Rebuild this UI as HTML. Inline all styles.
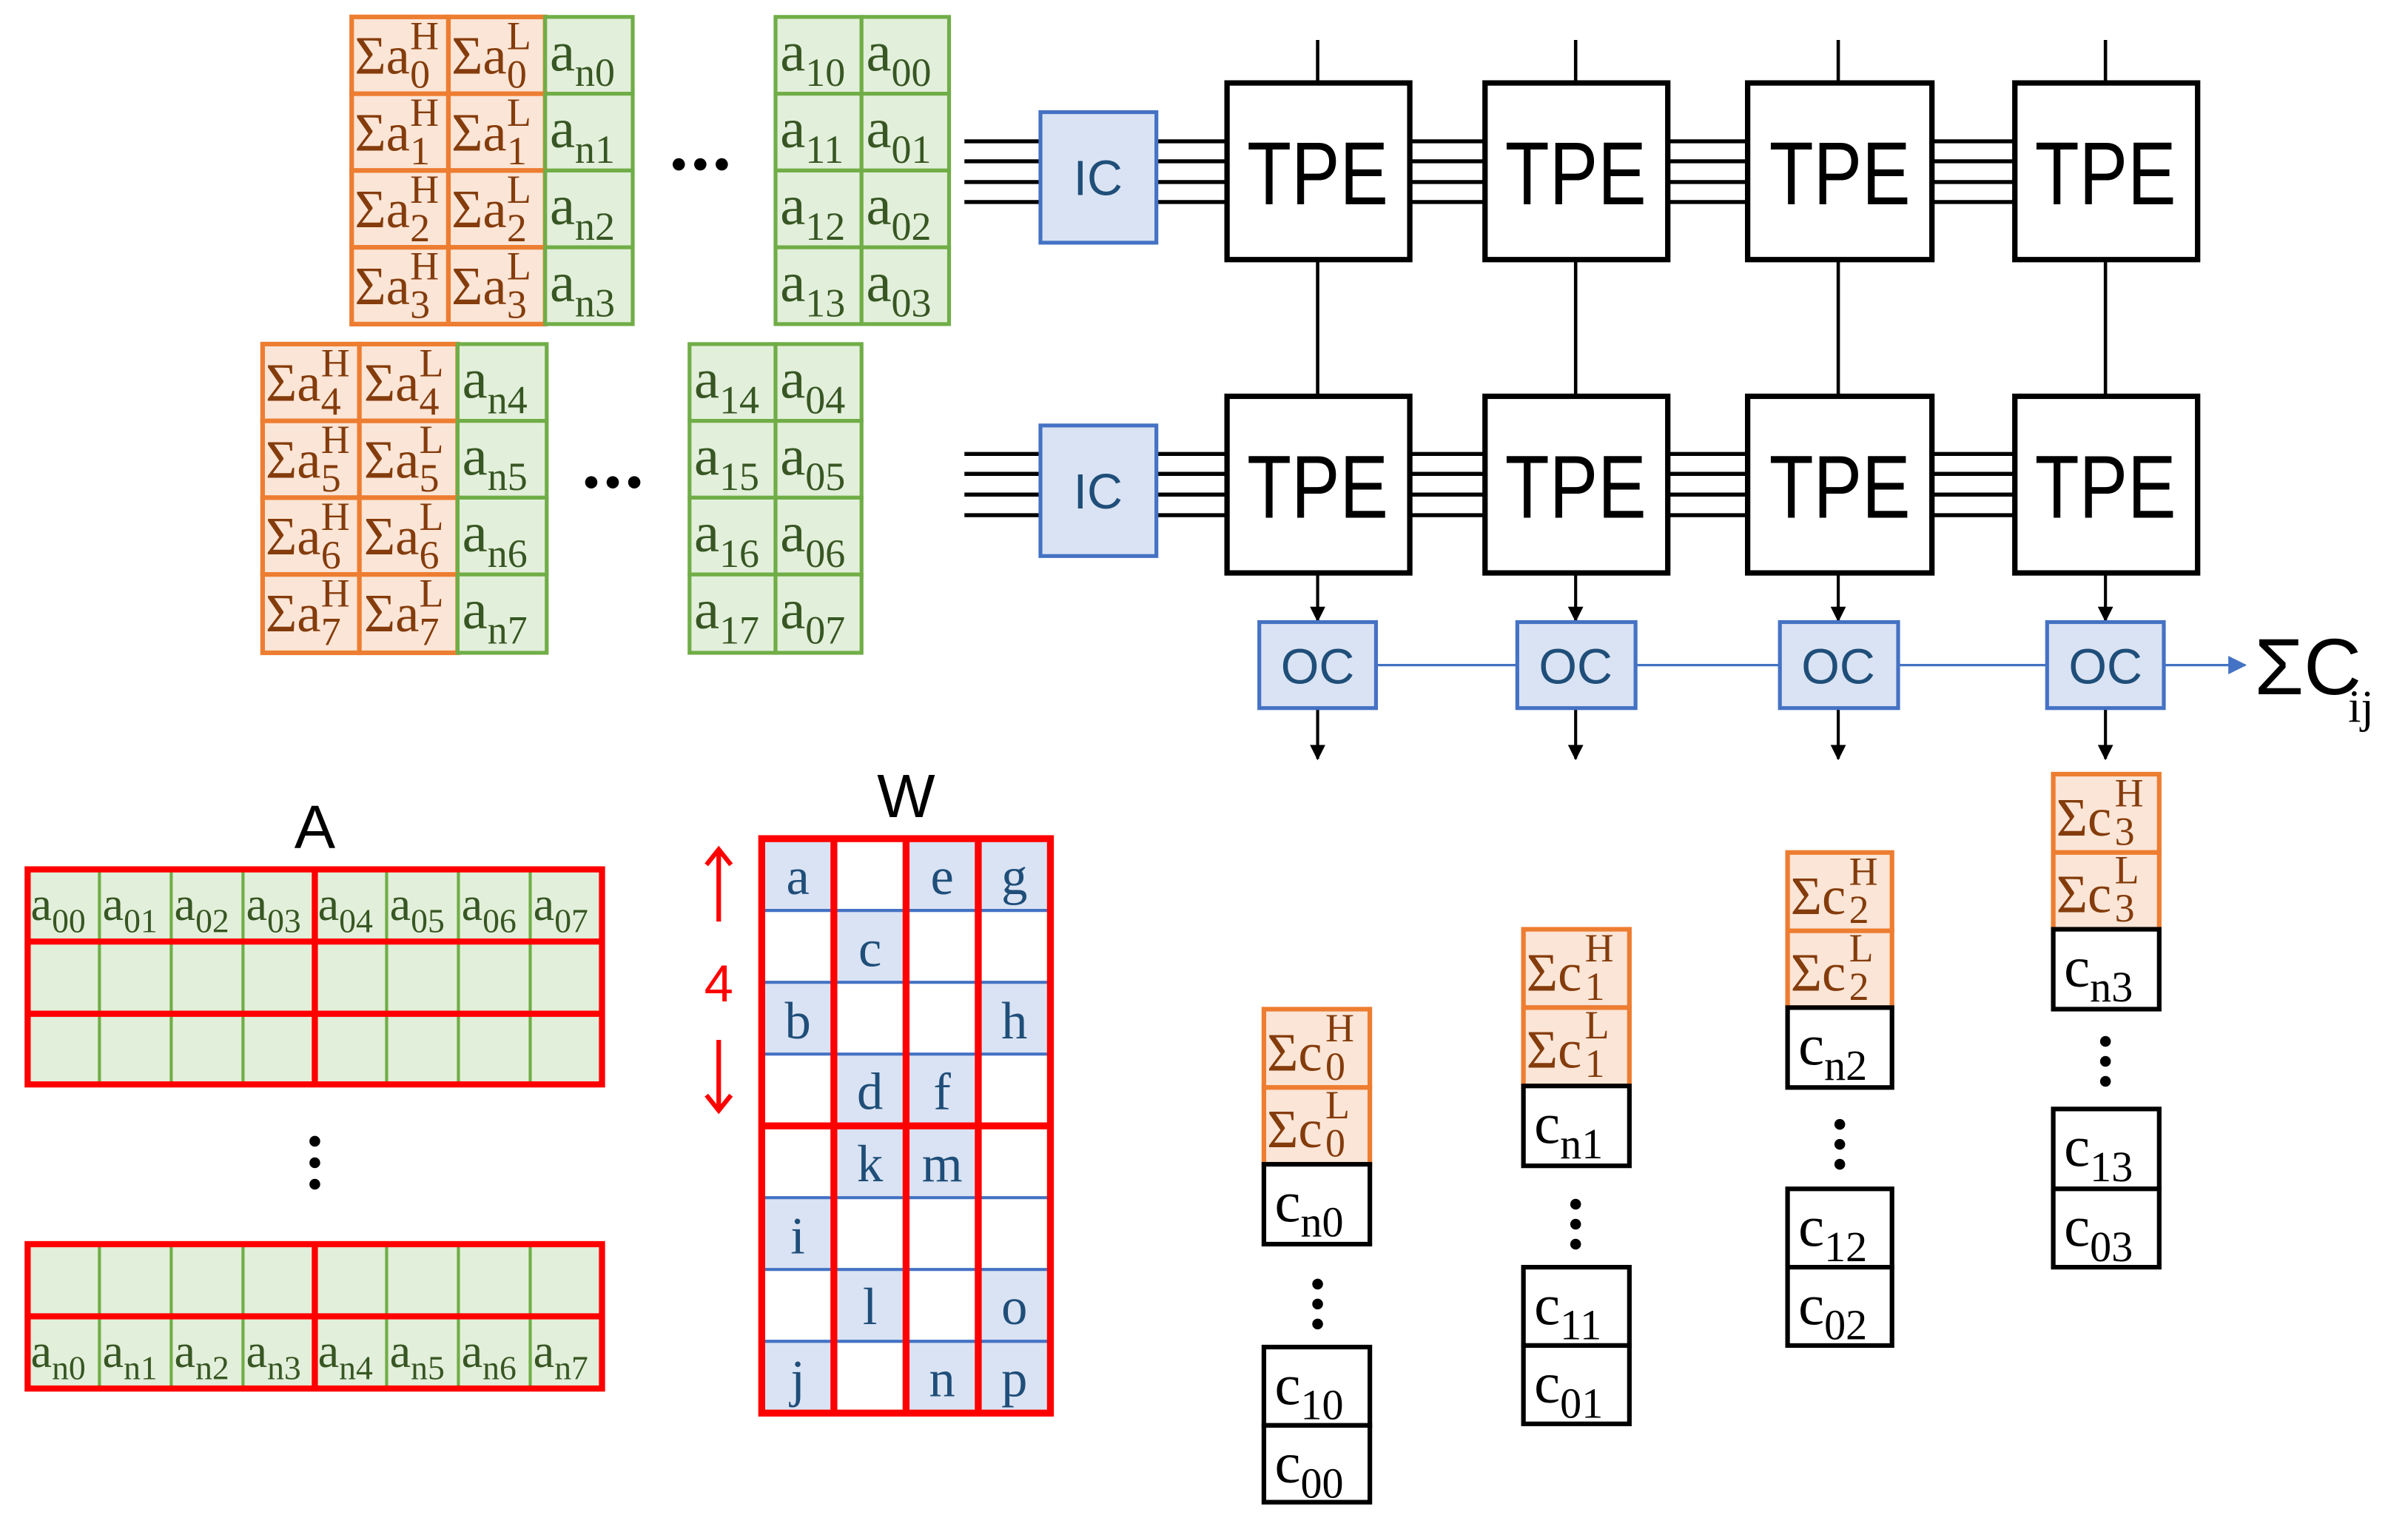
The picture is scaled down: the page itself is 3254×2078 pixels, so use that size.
<!DOCTYPE html>
<html><head><meta charset="utf-8"><style>
html,body{margin:0;padding:0;background:#fff;}
svg{display:block;}
.o{font-family:"Liberation Serif",serif;fill:#843c0c;font-size:35px;}
.os{font-family:"Liberation Serif",serif;fill:#843c0c;font-size:26px;}
.g{font-family:"Liberation Serif",serif;fill:#375623;font-size:37px;}
.gs{font-size:26px;}
.ga{font-family:"Liberation Serif",serif;fill:#375623;font-size:31px;}
.gas{font-size:22px;}
.k{font-family:"Liberation Serif",serif;fill:#000;font-size:38px;}
.ks{font-size:28px;}
.w{font-family:"Liberation Serif",serif;fill:#1f4e79;font-size:34px;text-anchor:middle;}
.b{font-family:"Liberation Sans",sans-serif;fill:#1f4e79;font-size:32px;text-anchor:middle;}
.t{font-family:"Liberation Sans",sans-serif;fill:#000;font-size:58px;text-anchor:middle;}
.or{fill:#fbe5d6;stroke:#ed7d31;stroke-width:3;}
.gr{fill:#e2efda;stroke:#70ad47;stroke-width:2.5;}
.br{fill:#dae3f3;stroke:#4472c4;stroke-width:2.5;}
.tp{fill:#fff;stroke:#000;stroke-width:3.5;}
.ln{stroke:#000;stroke-width:2.2;}
.kb{fill:#fff;stroke:#000;stroke-width:3;}
</style></head><body>
<svg width="3254" height="2078" viewBox="0 0 1568 1001.3" xmlns="http://www.w3.org/2000/svg">
<defs>
<marker id="ah" markerWidth="10" markerHeight="10" refX="9" refY="5" orient="auto" markerUnits="userSpaceOnUse"><path d="M0,0 L10,5 L0,10 z" fill="#000"/></marker>
<marker id="ahb" markerWidth="12" markerHeight="12" refX="11" refY="6" orient="auto" markerUnits="userSpaceOnUse"><path d="M0,0 L12,6 L0,12 z" fill="#4472c4"/></marker>
</defs>

<!-- top-left block -->
<g>
<rect class="or" x="229" y="11" width="63" height="50"/><rect class="or" x="292" y="11" width="63" height="50"/><rect class="gr" x="355" y="11" width="57" height="50"/>
<rect class="or" x="229" y="61" width="63" height="50"/><rect class="or" x="292" y="61" width="63" height="50"/><rect class="gr" x="355" y="61" width="57" height="50"/>
<rect class="or" x="229" y="111" width="63" height="50"/><rect class="or" x="292" y="111" width="63" height="50"/><rect class="gr" x="355" y="111" width="57" height="50"/>
<rect class="or" x="229" y="161" width="63" height="50"/><rect class="or" x="292" y="161" width="63" height="50"/><rect class="gr" x="355" y="161" width="57" height="50"/>
<text class="o" x="231" y="48">Σa</text><text class="os" x="267" y="32">H</text><text class="os" x="267" y="57">0</text>
<text class="o" x="294" y="48">Σa</text><text class="os" x="330" y="32">L</text><text class="os" x="330" y="57">0</text>
<text class="g" x="358" y="46">a<tspan class="gs" dy="10">n0</tspan></text>
<text class="o" x="231" y="98">Σa</text><text class="os" x="267" y="82">H</text><text class="os" x="267" y="107">1</text>
<text class="o" x="294" y="98">Σa</text><text class="os" x="330" y="82">L</text><text class="os" x="330" y="107">1</text>
<text class="g" x="358" y="96">a<tspan class="gs" dy="10">n1</tspan></text>
<text class="o" x="231" y="148">Σa</text><text class="os" x="267" y="132">H</text><text class="os" x="267" y="157">2</text>
<text class="o" x="294" y="148">Σa</text><text class="os" x="330" y="132">L</text><text class="os" x="330" y="157">2</text>
<text class="g" x="358" y="146">a<tspan class="gs" dy="10">n2</tspan></text>
<text class="o" x="231" y="198">Σa</text><text class="os" x="267" y="182">H</text><text class="os" x="267" y="207">3</text>
<text class="o" x="294" y="198">Σa</text><text class="os" x="330" y="182">L</text><text class="os" x="330" y="207">3</text>
<text class="g" x="358" y="196">a<tspan class="gs" dy="10">n3</tspan></text>
</g>
<g fill="#000"><circle cx="442" cy="107" r="4"/><circle cx="456" cy="107" r="4"/><circle cx="470" cy="107" r="4"/></g>
<g>
<rect class="gr" x="505" y="11" width="56" height="50"/><rect class="gr" x="561" y="11" width="57" height="50"/>
<rect class="gr" x="505" y="61" width="56" height="50"/><rect class="gr" x="561" y="61" width="57" height="50"/>
<rect class="gr" x="505" y="111" width="56" height="50"/><rect class="gr" x="561" y="111" width="57" height="50"/>
<rect class="gr" x="505" y="161" width="56" height="50"/><rect class="gr" x="561" y="161" width="57" height="50"/>
<text class="g" x="508" y="46">a<tspan class="gs" dy="10">10</tspan></text><text class="g" x="564" y="46">a<tspan class="gs" dy="10">00</tspan></text>
<text class="g" x="508" y="96">a<tspan class="gs" dy="10">11</tspan></text><text class="g" x="564" y="96">a<tspan class="gs" dy="10">01</tspan></text>
<text class="g" x="508" y="146">a<tspan class="gs" dy="10">12</tspan></text><text class="g" x="564" y="146">a<tspan class="gs" dy="10">02</tspan></text>
<text class="g" x="508" y="196">a<tspan class="gs" dy="10">13</tspan></text><text class="g" x="564" y="196">a<tspan class="gs" dy="10">03</tspan></text>
</g>

<!-- second block -->
<g>
<rect class="or" x="171" y="224" width="63" height="50"/><rect class="or" x="234" y="224" width="64" height="50"/><rect class="gr" x="298" y="224" width="58" height="50"/>
<rect class="or" x="171" y="274" width="63" height="50"/><rect class="or" x="234" y="274" width="64" height="50"/><rect class="gr" x="298" y="274" width="58" height="50"/>
<rect class="or" x="171" y="324" width="63" height="50"/><rect class="or" x="234" y="324" width="64" height="50"/><rect class="gr" x="298" y="324" width="58" height="50"/>
<rect class="or" x="171" y="374" width="63" height="51"/><rect class="or" x="234" y="374" width="64" height="51"/><rect class="gr" x="298" y="374" width="58" height="51"/>
<text class="o" x="173" y="261">Σa</text><text class="os" x="209" y="245">H</text><text class="os" x="209" y="270">4</text>
<text class="o" x="237" y="261">Σa</text><text class="os" x="273" y="245">L</text><text class="os" x="273" y="270">4</text>
<text class="g" x="301" y="259">a<tspan class="gs" dy="10">n4</tspan></text>
<text class="o" x="173" y="311">Σa</text><text class="os" x="209" y="295">H</text><text class="os" x="209" y="320">5</text>
<text class="o" x="237" y="311">Σa</text><text class="os" x="273" y="295">L</text><text class="os" x="273" y="320">5</text>
<text class="g" x="301" y="309">a<tspan class="gs" dy="10">n5</tspan></text>
<text class="o" x="173" y="361">Σa</text><text class="os" x="209" y="345">H</text><text class="os" x="209" y="370">6</text>
<text class="o" x="237" y="361">Σa</text><text class="os" x="273" y="345">L</text><text class="os" x="273" y="370">6</text>
<text class="g" x="301" y="359">a<tspan class="gs" dy="10">n6</tspan></text>
<text class="o" x="173" y="411">Σa</text><text class="os" x="209" y="395">H</text><text class="os" x="209" y="420">7</text>
<text class="o" x="237" y="411">Σa</text><text class="os" x="273" y="395">L</text><text class="os" x="273" y="420">7</text>
<text class="g" x="301" y="409">a<tspan class="gs" dy="10">n7</tspan></text>
</g>
<g fill="#000"><circle cx="385" cy="314" r="4"/><circle cx="399" cy="314" r="4"/><circle cx="413" cy="314" r="4"/></g>
<g>
<rect class="gr" x="449" y="224" width="56" height="50"/><rect class="gr" x="505" y="224" width="56" height="50"/>
<rect class="gr" x="449" y="274" width="56" height="50"/><rect class="gr" x="505" y="274" width="56" height="50"/>
<rect class="gr" x="449" y="324" width="56" height="50"/><rect class="gr" x="505" y="324" width="56" height="50"/>
<rect class="gr" x="449" y="374" width="56" height="51"/><rect class="gr" x="505" y="374" width="56" height="51"/>
<text class="g" x="452" y="259">a<tspan class="gs" dy="10">14</tspan></text><text class="g" x="508" y="259">a<tspan class="gs" dy="10">04</tspan></text>
<text class="g" x="452" y="309">a<tspan class="gs" dy="10">15</tspan></text><text class="g" x="508" y="309">a<tspan class="gs" dy="10">05</tspan></text>
<text class="g" x="452" y="359">a<tspan class="gs" dy="10">16</tspan></text><text class="g" x="508" y="359">a<tspan class="gs" dy="10">06</tspan></text>
<text class="g" x="452" y="409">a<tspan class="gs" dy="10">17</tspan></text><text class="g" x="508" y="409">a<tspan class="gs" dy="10">07</tspan></text>
</g>

<!-- buses -->
<g stroke="#000" stroke-width="2.6">
<path d="M628 92H677M628 105H677M628 118.5H677M628 131.5H677"/>
<path d="M753 92H799M753 105H799M753 118.5H799M753 131.5H799"/>
<path d="M918 92H967M918 105H967M918 118.5H967M918 131.5H967"/>
<path d="M1086 92H1138M1086 105H1138M1086 118.5H1138M1086 131.5H1138"/>
<path d="M1258 92H1312M1258 105H1312M1258 118.5H1312M1258 131.5H1312"/>
<path d="M628 295.5H677M628 308.5H677M628 322H677M628 335.4H677"/>
<path d="M753 295.5H799M753 308.5H799M753 322H799M753 335.4H799"/>
<path d="M918 295.5H967M918 308.5H967M918 322H967M918 335.4H967"/>
<path d="M1086 295.5H1138M1086 308.5H1138M1086 322H1138M1086 335.4H1138"/>
<path d="M1258 295.5H1312M1258 308.5H1312M1258 322H1312M1258 335.4H1312"/>
</g>
<g class="ln">
<path d="M858 26V54M858 169V258M1026 26V54M1026 169V258M1197 26V54M1197 169V258M1371 26V54M1371 169V258"/>
</g>
<g stroke="#000" stroke-width="2" marker-end="url(#ah)">
<line x1="858" y1="373" x2="858" y2="404"/><line x1="1026" y1="373" x2="1026" y2="404"/><line x1="1197" y1="373" x2="1197" y2="404"/><line x1="1371" y1="373" x2="1371" y2="404"/>
<line x1="858" y1="462" x2="858" y2="494"/><line x1="1026" y1="462" x2="1026" y2="494"/><line x1="1197" y1="462" x2="1197" y2="494"/><line x1="1371" y1="462" x2="1371" y2="494"/>
</g>
<rect class="br" x="677.5" y="73" width="75.5" height="85"/><text class="b" x="715" y="127">IC</text>
<rect class="br" x="677.5" y="277" width="75.5" height="85"/><text class="b" x="715" y="331">IC</text>
<rect class="tp" x="799" y="54" width="119" height="115"/><text class="t" x="858" y="133" textLength="92" lengthAdjust="spacingAndGlyphs">TPE</text>
<rect class="tp" x="967" y="54" width="119" height="115"/><text class="t" x="1026" y="133" textLength="92" lengthAdjust="spacingAndGlyphs">TPE</text>
<rect class="tp" x="1138" y="54" width="120" height="115"/><text class="t" x="1198" y="133" textLength="92" lengthAdjust="spacingAndGlyphs">TPE</text>
<rect class="tp" x="1312" y="54" width="119" height="115"/><text class="t" x="1371" y="133" textLength="92" lengthAdjust="spacingAndGlyphs">TPE</text>
<rect class="tp" x="799" y="258" width="119" height="115"/><text class="t" x="858" y="337" textLength="92" lengthAdjust="spacingAndGlyphs">TPE</text>
<rect class="tp" x="967" y="258" width="119" height="115"/><text class="t" x="1026" y="337" textLength="92" lengthAdjust="spacingAndGlyphs">TPE</text>
<rect class="tp" x="1138" y="258" width="120" height="115"/><text class="t" x="1198" y="337" textLength="92" lengthAdjust="spacingAndGlyphs">TPE</text>
<rect class="tp" x="1312" y="258" width="119" height="115"/><text class="t" x="1371" y="337" textLength="92" lengthAdjust="spacingAndGlyphs">TPE</text>
<line x1="896" y1="433" x2="1462" y2="433" stroke="#4472c4" stroke-width="1.6" marker-end="url(#ahb)"/>
<rect class="br" x="820" y="405" width="76" height="56"/><text class="b" x="858" y="445">OC</text>
<rect class="br" x="988" y="405" width="77" height="56"/><text class="b" x="1026" y="445">OC</text>
<rect class="br" x="1159" y="405" width="77" height="56"/><text class="b" x="1197" y="445">OC</text>
<rect class="br" x="1333" y="405" width="76" height="56"/><text class="b" x="1371" y="445">OC</text>
<text x="1468" y="452" font-family="Liberation Sans" font-size="52">ΣC</text><text x="1529" y="470" font-family="Liberation Serif" font-size="30">ij</text>

<!-- A matrix -->
<text x="205" y="552" font-family="Liberation Sans" font-size="40" text-anchor="middle">A</text>
<rect x="18" y="566" width="374" height="140" fill="#e2efda"/>
<g stroke="#70ad47" stroke-width="2"><path d="M64.75 566V706M111.5 566V706M158.25 566V706M251.75 566V706M298.5 566V706M345.25 566V706"/></g>
<g stroke="#f00" stroke-width="4" fill="none"><rect x="18" y="566" width="374" height="140"/><path d="M18 613H392M18 660H392M205 566V706"/></g>
<text class="ga" x="20" y="599">a<tspan class="gas" dy="8">00</tspan></text>
<text class="ga" x="66.75" y="599">a<tspan class="gas" dy="8">01</tspan></text>
<text class="ga" x="113.5" y="599">a<tspan class="gas" dy="8">02</tspan></text>
<text class="ga" x="160.25" y="599">a<tspan class="gas" dy="8">03</tspan></text>
<text class="ga" x="207" y="599">a<tspan class="gas" dy="8">04</tspan></text>
<text class="ga" x="253.75" y="599">a<tspan class="gas" dy="8">05</tspan></text>
<text class="ga" x="300.5" y="599">a<tspan class="gas" dy="8">06</tspan></text>
<text class="ga" x="347.25" y="599">a<tspan class="gas" dy="8">07</tspan></text>
<g fill="#000"><circle cx="205" cy="743" r="3.5"/><circle cx="205" cy="757" r="3.5"/><circle cx="205" cy="771" r="3.5"/></g>
<rect x="18" y="810" width="374" height="94" fill="#e2efda"/>
<g stroke="#70ad47" stroke-width="2"><path d="M64.75 810V904M111.5 810V904M158.25 810V904M251.75 810V904M298.5 810V904M345.25 810V904"/></g>
<g stroke="#f00" stroke-width="4" fill="none"><rect x="18" y="810" width="374" height="94"/><path d="M18 857H392M205 810V904"/></g>
<text class="ga" x="20" y="890">a<tspan class="gas" dy="8">n0</tspan></text>
<text class="ga" x="66.75" y="890">a<tspan class="gas" dy="8">n1</tspan></text>
<text class="ga" x="113.5" y="890">a<tspan class="gas" dy="8">n2</tspan></text>
<text class="ga" x="160.25" y="890">a<tspan class="gas" dy="8">n3</tspan></text>
<text class="ga" x="207" y="890">a<tspan class="gas" dy="8">n4</tspan></text>
<text class="ga" x="253.75" y="890">a<tspan class="gas" dy="8">n5</tspan></text>
<text class="ga" x="300.5" y="890">a<tspan class="gas" dy="8">n6</tspan></text>
<text class="ga" x="347.25" y="890">a<tspan class="gas" dy="8">n7</tspan></text>

<!-- W matrix -->
<text x="590" y="532" font-family="Liberation Sans" font-size="40" text-anchor="middle">W</text>
<g fill="#dae3f3">
<rect x="496" y="546" width="47" height="46.75"/><rect x="590" y="546" width="47" height="46.75"/><rect x="637" y="546" width="47" height="46.75"/>
<rect x="543" y="592.75" width="47" height="46.75"/>
<rect x="496" y="639.5" width="47" height="46.75"/><rect x="637" y="639.5" width="47" height="46.75"/>
<rect x="543" y="686.25" width="47" height="46.75"/><rect x="590" y="686.25" width="47" height="46.75"/>
<rect x="543" y="733" width="47" height="46.75"/><rect x="590" y="733" width="47" height="46.75"/>
<rect x="496" y="779.75" width="47" height="46.75"/>
<rect x="543" y="826.5" width="47" height="46.75"/><rect x="637" y="826.5" width="47" height="46.75"/>
<rect x="496" y="873.25" width="47" height="46.75"/><rect x="590" y="873.25" width="47" height="46.75"/><rect x="637" y="873.25" width="47" height="46.75"/>
</g>
<g stroke="#4472c4" stroke-width="2"><path d="M496 592.75H684M496 639.5H684M496 686.25H684M496 779.75H684M496 826.5H684M496 873.25H684"/></g>
<g stroke="#f00" stroke-width="4.5" fill="none"><rect x="496" y="546" width="188" height="374"/><path d="M543 546V920M590 546V920M637 546V920M496 733H684"/></g>
<text class="w" x="519.5" y="582">a</text><text class="w" x="613.5" y="582">e</text><text class="w" x="660.5" y="582">g</text>
<text class="w" x="566.5" y="629">c</text>
<text class="w" x="519.5" y="676">b</text><text class="w" x="660.5" y="676">h</text>
<text class="w" x="566.5" y="722">d</text><text class="w" x="613.5" y="722">f</text>
<text class="w" x="566.5" y="769">k</text><text class="w" x="613.5" y="769">m</text>
<text class="w" x="519.5" y="816">i</text>
<text class="w" x="566.5" y="862">l</text><text class="w" x="660.5" y="862">o</text>
<text class="w" x="519.5" y="909">j</text><text class="w" x="613.5" y="909">n</text><text class="w" x="660.5" y="909">p</text>
<g stroke="#f00" stroke-width="3" fill="none">
<path d="M468 600V553M460 563L468 553L476 563"/>
<path d="M468 677V723M460 713L468 723L476 713"/>
</g>
<text x="468" y="652" font-family="Liberation Sans" font-size="34" fill="#f00" text-anchor="middle">4</text>

<!-- C stacks -->
<rect class="or" x="823" y="657" width="69" height="51"/><rect class="or" x="823" y="708" width="69" height="50"/>
<text class="o" x="825" y="697">Σc</text><text class="os" x="863" y="678">H</text><text class="os" x="863" y="703">0</text>
<text class="o" x="825" y="747">Σc</text><text class="os" x="863" y="728">L</text><text class="os" x="863" y="753">0</text>
<rect class="kb" x="823" y="758" width="69" height="52"/><text class="k" x="830" y="795">c<tspan class="ks" dy="10">n0</tspan></text>
<g fill="#000"><circle cx="858" cy="836" r="3.5"/><circle cx="858" cy="849" r="3.5"/><circle cx="858" cy="862" r="3.5"/></g>
<rect class="kb" x="823" y="877" width="69" height="51"/><text class="k" x="830" y="914">c<tspan class="ks" dy="10">10</tspan></text>
<rect class="kb" x="823" y="928" width="69" height="50"/><text class="k" x="830" y="965">c<tspan class="ks" dy="10">00</tspan></text>

<rect class="or" x="992" y="605" width="69" height="51"/><rect class="or" x="992" y="656" width="69" height="51"/>
<text class="o" x="994" y="645">Σc</text><text class="os" x="1032" y="626">H</text><text class="os" x="1032" y="651">1</text>
<text class="o" x="994" y="695">Σc</text><text class="os" x="1032" y="676">L</text><text class="os" x="1032" y="701">1</text>
<rect class="kb" x="992" y="707" width="69" height="52"/><text class="k" x="999" y="744">c<tspan class="ks" dy="10">n1</tspan></text>
<g fill="#000"><circle cx="1026" cy="784" r="3.5"/><circle cx="1026" cy="797" r="3.5"/><circle cx="1026" cy="810" r="3.5"/></g>
<rect class="kb" x="992" y="825" width="69" height="51"/><text class="k" x="999" y="862">c<tspan class="ks" dy="10">11</tspan></text>
<rect class="kb" x="992" y="876" width="69" height="51"/><text class="k" x="999" y="913">c<tspan class="ks" dy="10">01</tspan></text>

<rect class="or" x="1164" y="555" width="68" height="51"/><rect class="or" x="1164" y="606" width="68" height="50"/>
<text class="o" x="1166" y="595">Σc</text><text class="os" x="1204" y="576">H</text><text class="os" x="1204" y="601">2</text>
<text class="o" x="1166" y="645">Σc</text><text class="os" x="1204" y="626">L</text><text class="os" x="1204" y="651">2</text>
<rect class="kb" x="1164" y="656" width="68" height="52"/><text class="k" x="1171" y="693">c<tspan class="ks" dy="10">n2</tspan></text>
<g fill="#000"><circle cx="1198" cy="732" r="3.5"/><circle cx="1198" cy="745" r="3.5"/><circle cx="1198" cy="758" r="3.5"/></g>
<rect class="kb" x="1164" y="774" width="68" height="51"/><text class="k" x="1171" y="811">c<tspan class="ks" dy="10">12</tspan></text>
<rect class="kb" x="1164" y="825" width="68" height="51"/><text class="k" x="1171" y="862">c<tspan class="ks" dy="10">02</tspan></text>

<rect class="or" x="1337" y="504" width="69" height="51"/><rect class="or" x="1337" y="555" width="69" height="50"/>
<text class="o" x="1339" y="544">Σc</text><text class="os" x="1377" y="525">H</text><text class="os" x="1377" y="550">3</text>
<text class="o" x="1339" y="594">Σc</text><text class="os" x="1377" y="575">L</text><text class="os" x="1377" y="600">3</text>
<rect class="kb" x="1337" y="605" width="69" height="52"/><text class="k" x="1344" y="642">c<tspan class="ks" dy="10">n3</tspan></text>
<g fill="#000"><circle cx="1371" cy="678" r="3.5"/><circle cx="1371" cy="691" r="3.5"/><circle cx="1371" cy="704" r="3.5"/></g>
<rect class="kb" x="1337" y="722" width="69" height="52"/><text class="k" x="1344" y="759">c<tspan class="ks" dy="10">13</tspan></text>
<rect class="kb" x="1337" y="774" width="69" height="51"/><text class="k" x="1344" y="811">c<tspan class="ks" dy="10">03</tspan></text>
</svg>
</body></html>
